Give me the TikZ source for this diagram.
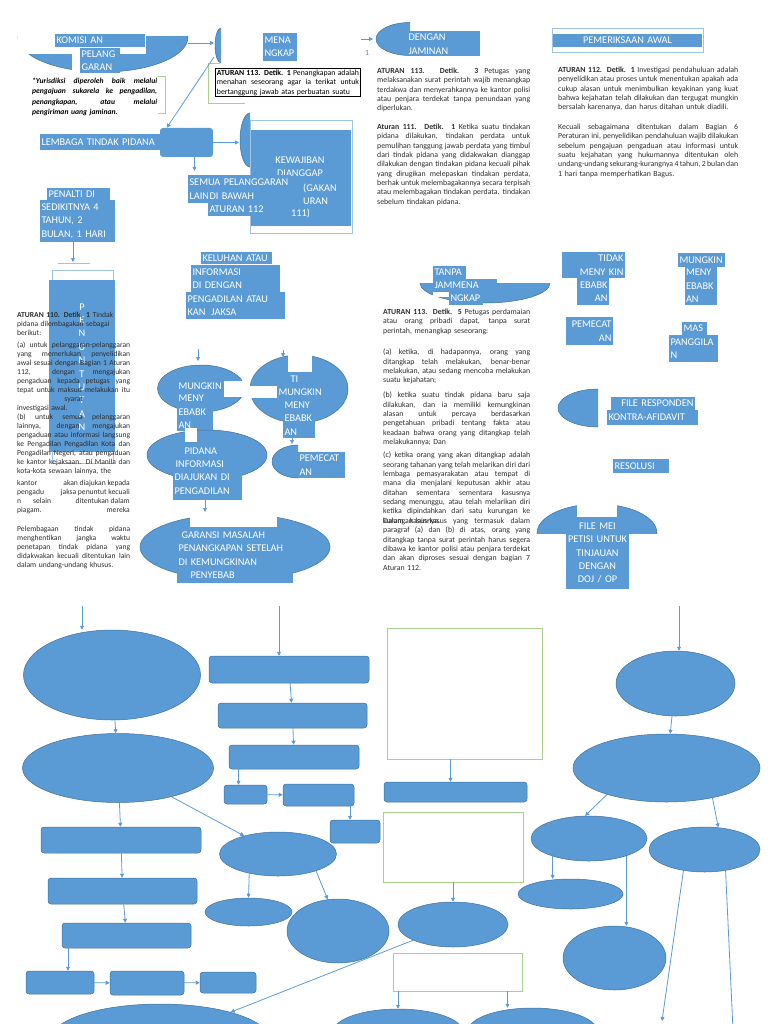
\documentclass[tikz,border=0pt]{standalone}
\usepackage{fontspec}
\setmainfont{Carlito}
\usepackage{xcolor}
\definecolor{wblue}{RGB}{91,155,213}
\definecolor{wedge}{RGB}{65,113,156}
\definecolor{wline}{RGB}{157,195,230}
\definecolor{wgreen}{RGB}{169,209,142}
\definecolor{ink}{RGB}{45,45,45}
\usetikzlibrary{arrows.meta, shapes.geometric}
\newlength{\colw}
\newcommand{\lblf}{\fontsize{10.3}{13.4}\selectfont}
\newcommand{\parf}{\fontsize{7.8}{9.3}\selectfont}
\newcommand{\parfs}{\fontsize{7.6}{9.0}\selectfont}
\newcommand{\jl}[1]{{\spaceskip=0pt\xspaceskip=0pt\makebox[\colw][s]{#1}}}

\begin{document}
\begin{tikzpicture}[x=1pt, y=-1pt,
  lbox/.style={rectangle, fill=wblue, text=white, font=\lblf, inner xsep=1.5pt, inner ysep=0pt, align=#1,
               execute at begin node={\hyphenpenalty=10000\exhyphenpenalty=10000\relax}},
  lbox/.default=left,
  ptxt/.style={anchor=north west, inner sep=0pt, font=\parf, text=ink, text width=#1, align=left,
               execute at begin node={\setlength{\colw}{#1}}},
  oval/.style={ellipse, fill=wblue, draw=wedge, line width=0.5pt, inner sep=0pt},
  rbox/.style={rectangle, rounded corners=3pt, fill=wblue, draw=wedge, line width=0.5pt, inner sep=0pt},
  gbox/.style={rectangle, draw=wgreen, line width=0.9pt, inner sep=0pt},
  blob/.style={fill=wblue, draw=wedge, line width=0.5pt},
  arr/.style={draw=wblue, line width=0.8pt, -{Triangle[length=4pt, width=4pt]}}
]
\useasboundingbox (0,0) rectangle (768,1024);
\clip (0,0) rectangle (768,1024);

% Top-left: komisi pelanggaran
\begin{scope}
  \clip (10,37) rectangle (195,80);
  \fill[blob] (103,37) ellipse [x radius=85pt, y radius=35pt];
\end{scope}
\fill[white] (18,28) rectangle (146,54);
\fill[white] (72,54) rectangle (80,76);
\node[lbox, text width=87pt, minimum height=13pt] (komA) at (100,40.5) {KOMISI~AN};
\node[lbox, text width=37pt, minimum height=25pt] (komB) at (100,60.5) {PELANG\\GARAN};
\node[ptxt=125pt, font=\fontsize{7.6}{10.3}\selectfont\bfseries\itshape, text=black] (yuris) at (32,78) {%
  \jl{*Yurisdiksi diperoleh baik melalui}\\
  \jl{pengajuan sukarela ke pengadilan,}\\
  \jl{penangkapan, atau melalui}\\
  pengiriman uang jaminan.};
\draw[wgreen, line width=0.9pt] (158,76) -- (165,76) -- (165,113) -- (158,113);

% Top: menangkap
\begin{scope}
  \clip (205,20) rectangle (221,70);
  \fill[blob] (221,45.5) ellipse [x radius=6pt, y radius=17.5pt];
\end{scope}
\draw[wgreen, line width=0.9pt] (220,63) -- (208,63) -- (208,103) -- (245,103);
\node[lbox, text width=31pt, minimum height=28pt] (mena) at (280,47) {MENA\\NGKAP};
\node[ptxt=142pt, draw=black, line width=0.9pt, inner sep=1.5pt, text=black] (a113a) at (215,68) {%
  \jl{\textbf{ATURAN 113. Detik. 1} Penangkapan adalah}\\
  \jl{menahan seseorang agar ia terikat untuk}\\
  bertanggung jawab atas perbuatan suatu};

% Top: dengan jaminan
\coordinate (oneA) at (361,39);
\coordinate (oneB) at (373,39);
\node[font=\parf, text=gray, inner sep=0pt] (one) at (367,53) {1};
\begin{scope}
  \clip (370,15) rectangle (410,62);
  \fill[blob] (410,39) ellipse [x radius=34pt, y radius=16.5pt];
\end{scope}
\node[lbox, text width=70pt, minimum height=25pt] (dengan) at (443.5,44) {DENGAN\\JAMINAN};
\node[ptxt=153pt] (p113c) at (377,68) {%
  \jl{\textbf{ATURAN 113. Detik. 3} Petugas yang}\\
  \jl{melaksanakan surat perintah wajib menangkap}\\
  \jl{terdakwa dan menyerahkannya ke kantor polisi}\\
  \jl{atau penjara terdekat tanpa penundaan yang}\\
  diperlukan.};
\node[ptxt=153pt] (p111) at (377,124) {%
  \jl{\textbf{Aturan 111. Detik. 1} Ketika suatu tindakan}\\
  \jl{pidana dilakukan, tindakan perdata untuk}\\
  \jl{pemulihan tanggung jawab perdata yang timbul}\\
  \jl{dari tindak pidana yang didakwakan dianggap}\\
  \jl{dilakukan dengan tindakan pidana kecuali pihak}\\
  \jl{yang dirugikan melepaskan tindakan perdata,}\\
  \jl{berhak untuk melembagakannya secara terpisah}\\
  \jl{atau melembagakan tindakan perdata. tindakan}\\
  sebelum tindakan pidana.};

% Top-right: pemeriksaan awal
\node[draw=wline, line width=1pt, fill=white, minimum width=151pt, minimum height=24pt, inner sep=0pt] (pemOut) at (627.5,41) {};
\node[lbox=center, text width=146pt, minimum height=13pt] (pemAwal) at (627.5,40.5) {PEMERIKSAAN~AWAL};
\node[ptxt=180pt] (p112) at (558,67) {%
  \jl{\textbf{ATURAN 112. Detik. 1} Investigasi pendahuluan adalah}\\
  \jl{penyelidikan atau proses untuk menentukan apakah ada}\\
  \jl{cukup alasan untuk menimbulkan keyakinan yang kuat}\\
  \jl{bahwa kejahatan telah dilakukan dan tergugat mungkin}\\
  bersalah karenanya, dan harus ditahan untuk diadili.};
\node[ptxt=180pt] (pkec) at (558,124) {%
  \jl{Kecuali sebagaimana ditentukan dalam Bagian 6}\\
  \jl{Peraturan ini, penyelidikan pendahuluan wajib dilakukan}\\
  \jl{sebelum pengajuan pengaduan atau informasi untuk}\\
  \jl{suatu kejahatan yang hukumannya ditentukan oleh}\\
  \jl{undang-undang sekurang-kurangnya 4 tahun, 2 bulan dan}\\
  1 hari tanpa memperhatikan Bagus.};

% Second row: lembaga tindak pidana
\node[rbox, draw=none, minimum width=53pt, minimum height=29pt] (lembR) at (186.5,142.5) {};
\node[lbox, text width=157pt, minimum height=16pt] (lemb) at (120,142) {LEMBAGA~TINDAK~PIDANA};
\begin{scope}
  \clip (235,105) rectangle (250,175);
  \fill[blob] (250,140) ellipse [x radius=10pt, y radius=27pt];
\end{scope}
\coordinate (dBl) at (239,142.5);
\node[draw=wline, line width=0.8pt, fill=white, minimum width=102pt, minimum height=113pt, inner sep=0pt] (kewOut) at (301,176.5) {};
\node[fill=wblue, minimum width=100pt, minimum height=96pt, inner sep=0pt] (kewIn) at (301,178) {};
\node[font=\lblf, text=white, align=center, inner sep=0pt] (kew) at (300,166.5) {KEWAJIBAN\\DIANGGAP};
\node[font=\lblf, text=white, align=left, anchor=west, inner sep=0pt] (gakan) at (303,194) {(GAKAN\\URAN};
\node[font=\lblf, text=white, anchor=west, inner sep=0pt] (sebelas) at (291,213) {111)};
\node[lbox, text width=100pt, minimum height=28pt] (semA) at (239.5,189) {SEMUA~PELANGGARAN\\LAIN};
\node[lbox, text width=54pt, minimum height=27pt] (semB) at (236.5,202.5) {DI~BAWAH\\ATURAN~112};

% Penalti and penuntutan
\node[lbox, text width=60pt, minimum height=12pt] (penA) at (78.5,194) {PENALTI~DI};
\node[lbox, text width=72pt, minimum height=42pt] (penB) at (77.5,221) {SEDIKITNYA~4\\TAHUN,~2\\BULAN,~1~HARI};
\coordinate (pntTop) at (73,262);
\draw[wline, line width=0.8pt] (58,263) -- (90,263);
\node[draw=wline, line width=0.8pt, fill=white, minimum width=61pt, minimum height=193pt, inner sep=0pt] (pntOut) at (82.5,366.5) {};
\node[fill=wblue, minimum width=66pt, minimum height=172pt, inner sep=0pt] (pntIn) at (82,366) {};
\node[font=\lblf, text=white, align=center, inner sep=0pt] (pnt) at (82,367) {P\\E\\N\\U\\N\\T\\U\\T\\A\\N};

% Left column text
\node[ptxt=113pt, font=\parfs] (p110a) at (17,312) {%
  \textbf{ATURAN 110. Detik. 1} Tindak\\
  pidana dilembagakan sebagai\\
  berikut:};
\node[ptxt=113pt, font=\parfs] (p110b) at (17,342) {%
  \jl{(a) untuk pelanggaran-pelanggaran}\\
  \jl{yang memerlukan penyelidikan}\\
  \jl{awal sesuai dengan Bagian 1 Aturan}\\
  \jl{112, dengan mengajukan}\\
  \jl{pengaduan kepada petugas yang}\\
  \jl{tepat untuk maksud melakukan itu}\\
  \makebox[\colw][c]{syarat}\\
  investigasi awal.};
\node[ptxt=113pt, font=\parfs] (p110c) at (17,414) {%
  \jl{(b) untuk semua pelanggaran}\\
  \jl{lainnya, dengan mengajukan}\\
  \jl{pengaduan atau informasi langsung}\\
  \jl{ke Pengadilan Pengadilan Kota dan}\\
  \jl{Pengadilan Negeri, atau pengaduan}\\
  \jl{ke kantor kejaksaan. Di Manila dan}\\
  kota-kota sewaan lainnya, the};
\node[ptxt=60pt, font=\parfs] (kanL) at (17,480) {kantor\\pengadu\\n\hspace{12pt}selain\\piagam.};
\node[anchor=north east, inner sep=0pt, font=\parfs, text=ink, align=right] (kanR) at (130,480) {akan diajukan kepada\\jaksa penuntut kecuali\\ditentukan dalam\\mereka};
\node[ptxt=113pt, font=\parfs] (pelem) at (17,526) {%
  \jl{Pelembagaan tindak pidana}\\
  \jl{menghentikan jangka waktu}\\
  \jl{penetapan tindak pidana yang}\\
  \jl{didakwakan kecuali ditentukan lain}\\
  dalam undang-undang khusus.};

% Middle: keluhan atau informasi
\node[lbox, text width=68pt, minimum height=12pt] (kelA) at (236.5,258) {KELUHAN~ATAU};
\node[lbox, text width=86pt, minimum height=27pt] (kelB) at (235.5,278.5) {INFORMASI\\DI~DENGAN};
\node[lbox, text width=96pt, minimum height=27pt] (kelC) at (235.5,305.5) {PENGADILAN~ATAU\\KAN\hspace{6pt}JAKSA};
\coordinate (kd1) at (198,349);
\coordinate (kd2) at (198,361);
\coordinate (kd3) at (283,350);
\coordinate (kd4) at (283,357);

% Middle: mungkin menyebabkan
\fill[blob] (201,388.5) ellipse [x radius=43.5pt, y radius=23.5pt];
\fill[white] (224,381) rectangle (248,397);
\node[lbox, text width=44pt, minimum height=13pt] (mungA) at (200.5,386.5) {MUNGKIN};
\node[lbox, text width=33pt, minimum height=38pt] (mungB) at (195,412) {MENY\\EBABK\\AN};

% Middle: tidak mungkin menyebabkan
\fill[blob] (299,389) ellipse [x radius=49pt, y radius=34pt];
\fill[white] (288,352) rectangle (312,372);
\fill[white] (248,386) rectangle (277,398);
\node[lbox, text width=13pt, minimum height=14pt] (tiA) at (297,379) {TI};
\node[lbox, text width=44pt, minimum height=13pt] (tiB) at (300.5,392.5) {MUNGKIN};
\node[lbox, text width=29pt, minimum height=39pt] (tiC) at (299,418.5) {MENY\\EBABK\\AN};
\coordinate (tp) at (292,444);

% Middle: pidana informasi
\fill[blob] (207,455) ellipse [x radius=60pt, y radius=25pt];
\fill[white] (185,428) rectangle (197,442);
\node[lbox, text width=66pt, minimum height=58pt] (pid) at (207.5,471) {\hspace*{10pt}PIDANA\\\hspace*{1pt}INFORMASI\\DIAJUKAN~DI\\PENGADILAN};
\coordinate (pd) at (205,512);
\draw[wblue, line width=0.8pt] (209,514) -- (222,514);

% Middle: pemecatan
\begin{scope}
  \clip (265,440) rectangle (298,485);
  \fill[blob] (298,461.5) ellipse [x radius=26pt, y radius=16.5pt];
\end{scope}
\node[lbox, text width=44pt, minimum height=26pt] (pemM) at (321.5,465) {PEMECAT\\AN};

% Middle: garansi
\fill[blob] (235,547) ellipse [x radius=95pt, y radius=33pt];
\fill[white] (190,511) rectangle (277,527);
\node[lbox, text width=113pt, minimum height=56pt] (gar) at (235,555) {\hspace*{3pt}GARANSI~MASALAH\\PENANGKAPAN~SETELAH\\DI~KEMUNGKINAN\\\hspace*{12pt}PENYEBAB};

% Right-middle: tanpa jaminan menangkap
\begin{scope}
  \clip (415,283) rectangle (555,310);
  \fill[blob] (485,283) ellipse [x radius=65pt, y radius=20pt];
\end{scope}
\fill[white] (433,283) rectangle (449,297);
\node[lbox, text width=30pt, minimum height=13pt] (tanA) at (449.5,272.5) {TANPA};
\node[lbox, text width=61pt, minimum height=13pt] (tanB) at (465,285.5) {JAMMENA};
\node[lbox, text width=31pt, minimum height=13pt] (tanC) at (466,298.5) {NGKAP};
\node[ptxt=147pt] (p113e) at (383,309) {%
  \jl{\textbf{ATURAN 113. Detik. 5} Petugas perdamaian}\\
  \jl{atau orang pribadi dapat, tanpa surat}\\
  perintah, menangkap seseorang:};
\node[ptxt=147pt] (pa) at (383,349) {%
  \jl{(a) ketika, di hadapannya, orang yang}\\
  \jl{ditangkap telah melakukan, benar-benar}\\
  \jl{melakukan, atau sedang mencoba melakukan}\\
  suatu kejahatan;};
\node[ptxt=147pt] (pb) at (383,392) {%
  \jl{(b) ketika suatu tindak pidana baru saja}\\
  \jl{dilakukan, dan ia memiliki kemungkinan}\\
  \jl{alasan untuk percaya berdasarkan}\\
  \jl{pengetahuan pribadi tentang fakta atau}\\
  \jl{keadaan bahwa orang yang ditangkap telah}\\
  melakukannya; Dan};
\node[ptxt=147pt] (pc) at (383,452) {%
  \jl{(c) ketika orang yang akan ditangkap adalah}\\
  \jl{seorang tahanan yang telah melarikan diri dari}\\
  \jl{lembaga pemasyarakatan atau tempat di}\\
  \jl{mana dia menjalani keputusan akhir atau}\\
  \jl{ditahan sementara sementara kasusnya}\\
  \jl{sedang menunggu, atau telah melarikan diri}\\
  \jl{ketika dipindahkan dari satu kurungan ke}\\
  kurungan lainnya.};
\node[ptxt=147pt] (pdal) at (383,518) {%
  \jl{Dalam kasus-kasus yang termasuk dalam}\\
  \jl{paragraf (a) dan (b) di atas, orang yang}\\
  \jl{ditangkap tanpa surat perintah harus segera}\\
  \jl{dibawa ke kantor polisi atau penjara terdekat}\\
  \jl{dan akan diproses sesuai dengan bagian 7}\\
  Aturan 112.};

% Right column
\node[lbox=right, text width=60pt, minimum height=26pt] (tidA) at (593.5,265) {TIDAK\\MENY~KIN};
\node[lbox=right, text width=29pt, minimum height=27pt] (tidB) at (593,291.5) {EBABK\\AN};
\node[lbox, text width=44pt, minimum height=14pt] (mungR) at (701.5,260) {MUNGKIN};
\node[lbox, text width=29pt, minimum height=38pt] (mungRb) at (700.5,286) {MENY\\EBABK\\AN};
\node[lbox=right, text width=44pt, minimum height=28pt] (pemR) at (589.5,331) {PEMECAT\\AN};
\node[lbox, text width=22pt, minimum height=13pt] (masA) at (694.5,328.5) {MAS};
\node[lbox, text width=46pt, minimum height=27pt] (masB) at (693.5,348.5) {PANGGILA\\N};
\begin{scope}
  \clip (550,380) rectangle (598,435);
  \fill[blob] (598,408) ellipse [x radius=40pt, y radius=19pt];
\end{scope}
\node[lbox=right, text width=81pt, minimum height=13pt] (frA) at (653,403.5) {FILE~RESPONDEN};
\node[lbox, text width=88pt, minimum height=15pt] (frB) at (652.5,417.5) {KONTRA-AFIDAVIT};
\node[lbox, text width=53pt, minimum height=14pt] (res) at (641,466) {RESOLUSI};
\begin{scope}
  \clip (530,495) rectangle (665,533);
  \fill[blob] (597,533) ellipse [x radius=60pt, y radius=29pt];
\end{scope}
\fill[white] (577,500) rectangle (617,518);
\node[lbox=center, text width=60pt, minimum height=72pt] (fm) at (597.5,553) {FILE~MEI\\PETISI~UNTUK\\TINJAUAN\\DENGAN\\DOJ~/~OP};

% Top connectors
\coordinate (komR) at (188,43);
\coordinate (dAl) at (214,43);
\coordinate (dAb) at (214,57);
\draw[arr] (komR) -- (dAl);
\draw[arr] (dAb) -- ([xshift=7pt]lembR.north west);
\draw[arr] (oneA) -- (oneB);
\draw[arr] (lembR.east) -- (dBl);
\draw[arr, shorten >=4pt] ([xshift=8pt]lembR.south) -- ([xshift=8pt]lembR.south |- semA.north);
\draw[arr] (penB.south -| pntTop) -- (pntTop);
\draw[arr] (kd1) -- (kd2);
\draw[arr] (kd3) -- (kd4);
\draw[arr] (tiC.south -| tp) -- (tp);
\draw[arr] (pid.south -| pd) -- (pd);

% Bottom: left chain
\node[oval, minimum width=177pt, minimum height=90pt] (lo1) at (112,675) {};
\node[oval, minimum width=191pt, minimum height=69pt] (lo2) at (118,768) {};
\node[rbox, minimum width=160pt, minimum height=26pt] (lr1) at (121,840) {};
\node[rbox, minimum width=149pt, minimum height=26pt] (lr2) at (122.5,891) {};
\node[rbox, minimum width=129pt, minimum height=25pt] (lr3) at (126.5,935.5) {};
\node[rbox, minimum width=68pt, minimum height=23pt] (lr4) at (60,982.5) {};
\node[rbox, minimum width=74pt, minimum height=24pt] (lr5) at (147,983) {};
\node[rbox, minimum width=56pt, minimum height=21pt] (lr6) at (228,982.5) {};
\node[oval, minimum width=220pt, minimum height=72pt] (lb1) at (160,1040) {};

% Bottom: middle chain
\node[rbox, minimum width=160pt, minimum height=27pt] (mr1) at (289,669.5) {};
\node[rbox, minimum width=149pt, minimum height=25pt] (mr2) at (292.5,715.5) {};
\node[rbox, minimum width=130pt, minimum height=24pt] (mr3) at (294,757) {};
\node[rbox, minimum width=43pt, minimum height=19pt] (mr4) at (245.5,794.5) {};
\node[rbox, minimum width=71pt, minimum height=22pt] (mr5) at (318.5,795) {};
\node[rbox, minimum width=50pt, minimum height=23pt] (mr6) at (355,831.5) {};
\node[oval, minimum width=117pt, minimum height=44pt] (mo1) at (278,854) {};
\node[oval, minimum width=87pt, minimum height=28pt] (mo2) at (248.5,912) {};
\node[oval, minimum width=102pt, minimum height=64pt] (mo3) at (338,931) {};

% Bottom: green boxes
\node[gbox, minimum width=155pt, minimum height=131pt] (gb1) at (464.5,693.5) {};
\node[rbox, minimum width=143pt, minimum height=20pt] (cr1) at (455.5,792) {};
\node[gbox, minimum width=140pt, minimum height=70pt] (gb2) at (453,847) {};
\node[oval, minimum width=110pt, minimum height=45pt] (co1) at (453,924.5) {};
\node[gbox, minimum width=129pt, minimum height=38pt] (gb3) at (457.5,972) {};
\node[oval, minimum width=130pt, minimum height=46pt] (cb1) at (398,1032) {};
\node[oval, minimum width=129pt, minimum height=46pt] (cb2) at (532.5,1031) {};

% Bottom: right chain
\node[oval, minimum width=119pt, minimum height=65pt] (ro1) at (675.5,683.5) {};
\node[oval, minimum width=187pt, minimum height=68pt] (ro2) at (666.5,768) {};
\node[oval, minimum width=116pt, minimum height=45pt] (ro3) at (589,838.5) {};
\node[oval, minimum width=111pt, minimum height=45pt] (ro4) at (704.5,849.5) {};
\node[oval, minimum width=105pt, minimum height=30pt] (ro5) at (570.5,894) {};
\node[oval, minimum width=103pt, minimum height=64pt] (ro6) at (614.5,958) {};

% Bottom connectors
\coordinate (topL) at (82,606);
\coordinate (topM) at (279,606);
\coordinate (topR) at (679,606);
\coordinate (botA) at (662,1021);
\coordinate (botB) at (733,1030);
\draw[arr] (topL) -- (topL |- lo1.north);
\draw[arr] (lo1) -- (lo2);
\draw[arr] (lo2) -- (lr1);
\draw[arr] (lr1) -- (lr2);
\draw[arr] (lr2) -- (lr3);
\draw[arr] ([xshift=8pt]lr4.north |- lr3.south) -- ([xshift=8pt]lr4.north);
\draw[arr] (lr4) -- (lr5);
\draw[arr] (lr5) -- (lr6);
\draw[arr] (lo2) -- (mo1);
\draw[arr] (topM) -- (topM |- mr1.north);
\draw[arr] (mr1) -- (mr2);
\draw[arr] (mr2) -- (mr3);
\draw[arr] ([xshift=-7pt]mr4.north |- mr3.south) -- ([xshift=-7pt]mr4.north);
\draw[arr] (mr4) -- (mr5);
\draw[arr] ([xshift=-5pt]mr6.north |- mr5.south) -- ([xshift=-5pt]mr6.north);
\draw[arr] (mo1.214) -- (mo2.north);
\draw[arr] (mo1.336) -- (mo3.108);
\draw[arr] ([xshift=-14pt]gb1.south) -- ([xshift=-14pt]gb1.south |- cr1.north);
\draw[arr] (gb2) -- (co1);
\draw[arr] (co1) -- (lb1);
\draw[arr] (gb3.south -| cb1) -- (cb1.north);
\draw[arr] ([xshift=-25pt]cb2.north |- gb3.south) -- ([xshift=-25pt]cb2.north);
\draw[arr] (topR) -- (topR |- ro1.north);
\draw[arr] (ro1) -- (ro2);
\draw[arr] (ro2.204) -- (ro3.100);
\draw[arr] (ro2.327) -- (ro4.58);
\draw[arr] (ro3.206) -- (ro3.206 |- ro5.north);
\draw[arr] (ro3.335) -- (ro3.335 |- ro6.north);
\draw[arr] (ro4.225) -- (botA);
\draw[wblue, line width=0.8pt] (ro4.315) -- (botB);
\end{tikzpicture}
\end{document}
